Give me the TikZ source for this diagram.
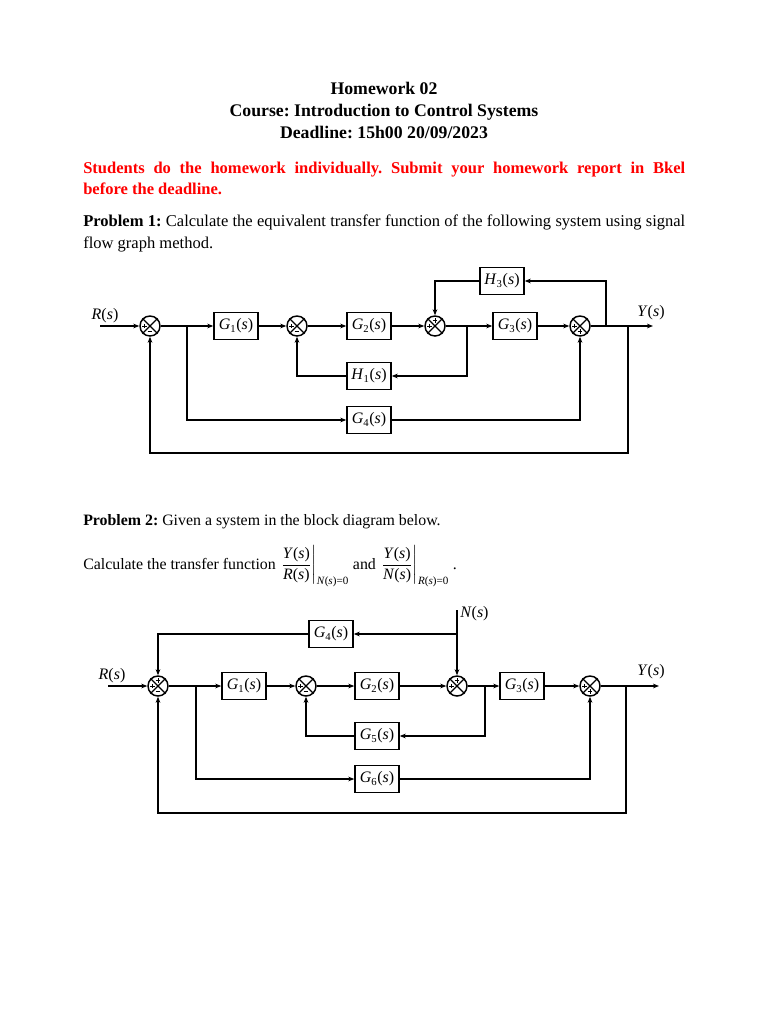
\documentclass[tikz,border=0pt]{standalone}
\usepackage{amsmath}
\usepackage{fontspec}
\setmainfont{Liberation Serif}
\usetikzlibrary{arrows.meta}
\frenchspacing
\newcommand{\tf}[2]{\textit{#1}\textsubscript{#2}(\textit{s})}
\newcommand{\sig}[1]{\textit{#1}(\textit{s})}
\newcommand{\plusat}[3]{\draw[line width=0.5pt] (#1.center) ++(#2,#3) ++(-2.2,0) -- ++(4.4,0) ++(-2.2,-2.2) -- ++(0,4.4);}
\newcommand{\minusat}[3]{\draw[line width=0.6pt] (#1.center) ++(#2,#3) ++(-2.4,0) -- ++(4.8,0);}
\newcommand{\crossx}[1]{\draw[line width=0.9pt] (#1.45) -- (#1.225) (#1.135) -- (#1.315);}
\begin{document}
\begin{tikzpicture}[x=0.75pt,y=-0.75pt,
  blk/.style={draw,line width=1.1pt,minimum width=33pt,minimum height=20pt,inner sep=0pt,font=\fontsize{12}{14}\selectfont},
  sumj/.style={draw,circle,line width=1.1pt,minimum size=15pt,inner sep=0pt},
  arr/.style={line width=1.1pt,-{Stealth[length=4.5pt,width=3.5pt]}},
  lbl/.style={font=\fontsize{12}{14}\selectfont,inner sep=0pt},
  txt/.style={font=\fontsize{12.4}{15}\selectfont,inner sep=0pt,anchor=base west},
  txtb/.style={font=\fontsize{11.9}{15}\selectfont,inner sep=0pt,anchor=base west},
  ttl/.style={font=\fontsize{13.3}{15}\selectfont\bfseries,inner sep=0pt,anchor=base}]
\useasboundingbox (0,0) rectangle (768,1024);
% header
\node[ttl] (t1) at (384,94) {Homework 02};
\node[ttl] (t2) at (384,116) {Course: Introduction to Control Systems};
\node[ttl] (t3) at (384,138) {Deadline: 15h00 20/09/2023};
\node[txt,text=red,font=\fontsize{12.4}{15}\selectfont\bfseries] (r1) at (83,173) {\makebox[451.5pt][s]{Students do the homework individually. Submit your homework report in Bkel}};
\node[txt,text=red,font=\fontsize{12.4}{15}\selectfont\bfseries] (r2) at (83,194) {before the deadline.};
\node[txt] (p1a) at (83,226) {\makebox[451.5pt][s]{\textbf{Problem 1:} Calculate the equivalent transfer function of the following system using signal}};
\node[txt] (p1b) at (83,248) {flow graph method.};
% ---------- Problem 1 diagram ----------
\node[sumj] (a1) at (150,326) {};
\node[blk] (g1) at (236,326) {\tf{G}{1}};
\node[sumj] (a2) at (297,326) {};
\node[blk] (g2) at (369,326) {\tf{G}{2}};
\node[sumj] (a3) at (435,326) {};
\node[blk] (g3) at (515,326) {\tf{G}{3}};
\node[sumj] (a4) at (580,326) {};
\node[blk] (h3) at (502,281) {\tf{H}{3}};
\node[blk] (h1) at (369,376) {\tf{H}{1}};
\node[blk] (g4) at (369,420) {\tf{G}{4}};
\foreach \s in {a1,a2,a3,a4} {\crossx{\s}}
\plusat{a1}{-5.5}{0}\minusat{a1}{0}{5.5}
\plusat{a2}{-5.5}{0}\minusat{a2}{0}{5.5}
\plusat{a3}{-5.5}{0}\plusat{a3}{0}{-5.5}
\plusat{a4}{-5.5}{0}\plusat{a4}{0}{5.5}
\coordinate (in1) at (100,326);
\coordinate (out1) at (653,326);
\coordinate (b1) at (187,326);
\coordinate (b2) at (467,326);
\coordinate (b3) at (606,326);
\coordinate (b4) at (628,326);
\coordinate (c1) at (628,453);
\node[lbl] (rl1) at (105,316) {\sig{R}};
\node[lbl] (yl1) at (651,313) {\sig{Y}};
\draw[arr] (in1) -- (a1);
\draw[arr] (a1) -- (g1);
\draw[arr] (g1) -- (a2);
\draw[arr] (a2) -- (g2);
\draw[arr] (g2) -- (a3);
\draw[arr] (a3) -- (g3);
\draw[arr] (g3) -- (a4);
\draw[arr] (a4) -- (out1);
\draw[arr] (b1) |- (g4);
\draw[arr] (g4) -| (a4);
\draw[arr] (b2) |- (h1);
\draw[arr] (h1) -| (a2);
\draw[arr] (b3) |- (h3);
\draw[arr] (h3) -| (a3);
\draw[arr] (b4) -- (c1) -| (a1);
% ---------- Problem 2 text ----------
\node[txtb] (p2a) at (83,525) {\textbf{Problem 2:} Given a system in the block diagram below.};
\node[txtb] (p2b) at (83,569) {Calculate the transfer function $\left.\dfrac{\text{\sig{Y}}}{\text{\sig{R}}}\right|_{\text{\sig{N}=0}}$ and $\left.\dfrac{\text{\sig{Y}}}{\text{\sig{N}}}\right|_{\text{\sig{R}=0}}$\ .};
% ---------- Problem 2 diagram ----------
\node[sumj] (s1) at (158,686) {};
\node[blk] (k1) at (244,686) {\tf{G}{1}};
\node[sumj] (s2) at (306,686) {};
\node[blk] (k2) at (377,686) {\tf{G}{2}};
\node[sumj] (s3) at (457,686) {};
\node[blk] (k3) at (522,686) {\tf{G}{3}};
\node[sumj] (s4) at (590,686) {};
\node[blk] (k4) at (331,634) {\tf{G}{4}};
\node[blk] (k5) at (377,736) {\tf{G}{5}};
\node[blk] (k6) at (377,779) {\tf{G}{6}};
\foreach \s in {s1,s2,s3,s4} {\crossx{\s}}
\plusat{s1}{-5.5}{0}\plusat{s1}{0}{-5.5}\minusat{s1}{0}{5.5}
\plusat{s2}{-5.5}{0}\minusat{s2}{0}{5.5}
\plusat{s3}{-5.5}{0}\plusat{s3}{0}{-5.5}
\plusat{s4}{-5.5}{0}\plusat{s4}{0}{5.5}
\coordinate (in2) at (108,686);
\coordinate (out2) at (659,686);
\coordinate (ntop) at (457,610);
\coordinate (nk) at (457,634);
\coordinate (d1) at (196,686);
\coordinate (d2) at (485,686);
\coordinate (d3) at (626,686);
\coordinate (d4) at (626,813);
\node[lbl] (rl2) at (112,676) {\sig{R}};
\node[lbl] (yl2) at (651,672) {\sig{Y}};
\node[lbl,anchor=west] (nl2) at (460,614) {\sig{N}};
\draw[arr] (in2) -- (s1);
\draw[arr] (s1) -- (k1);
\draw[arr] (k1) -- (s2);
\draw[arr] (s2) -- (k2);
\draw[arr] (k2) -- (s3);
\draw[arr] (s3) -- (k3);
\draw[arr] (k3) -- (s4);
\draw[arr] (s4) -- (out2);
\draw[arr] (ntop) -- (s3);
\draw[arr] (nk) -- (k4);
\draw[arr] (k4) -| (s1);
\draw[arr] (d1) |- (k6);
\draw[arr] (k6) -| (s4);
\draw[arr] (d2) |- (k5);
\draw[arr] (k5) -| (s2);
\draw[arr] (d3) -- (d4) -| (s1);
\end{tikzpicture}
\end{document}
